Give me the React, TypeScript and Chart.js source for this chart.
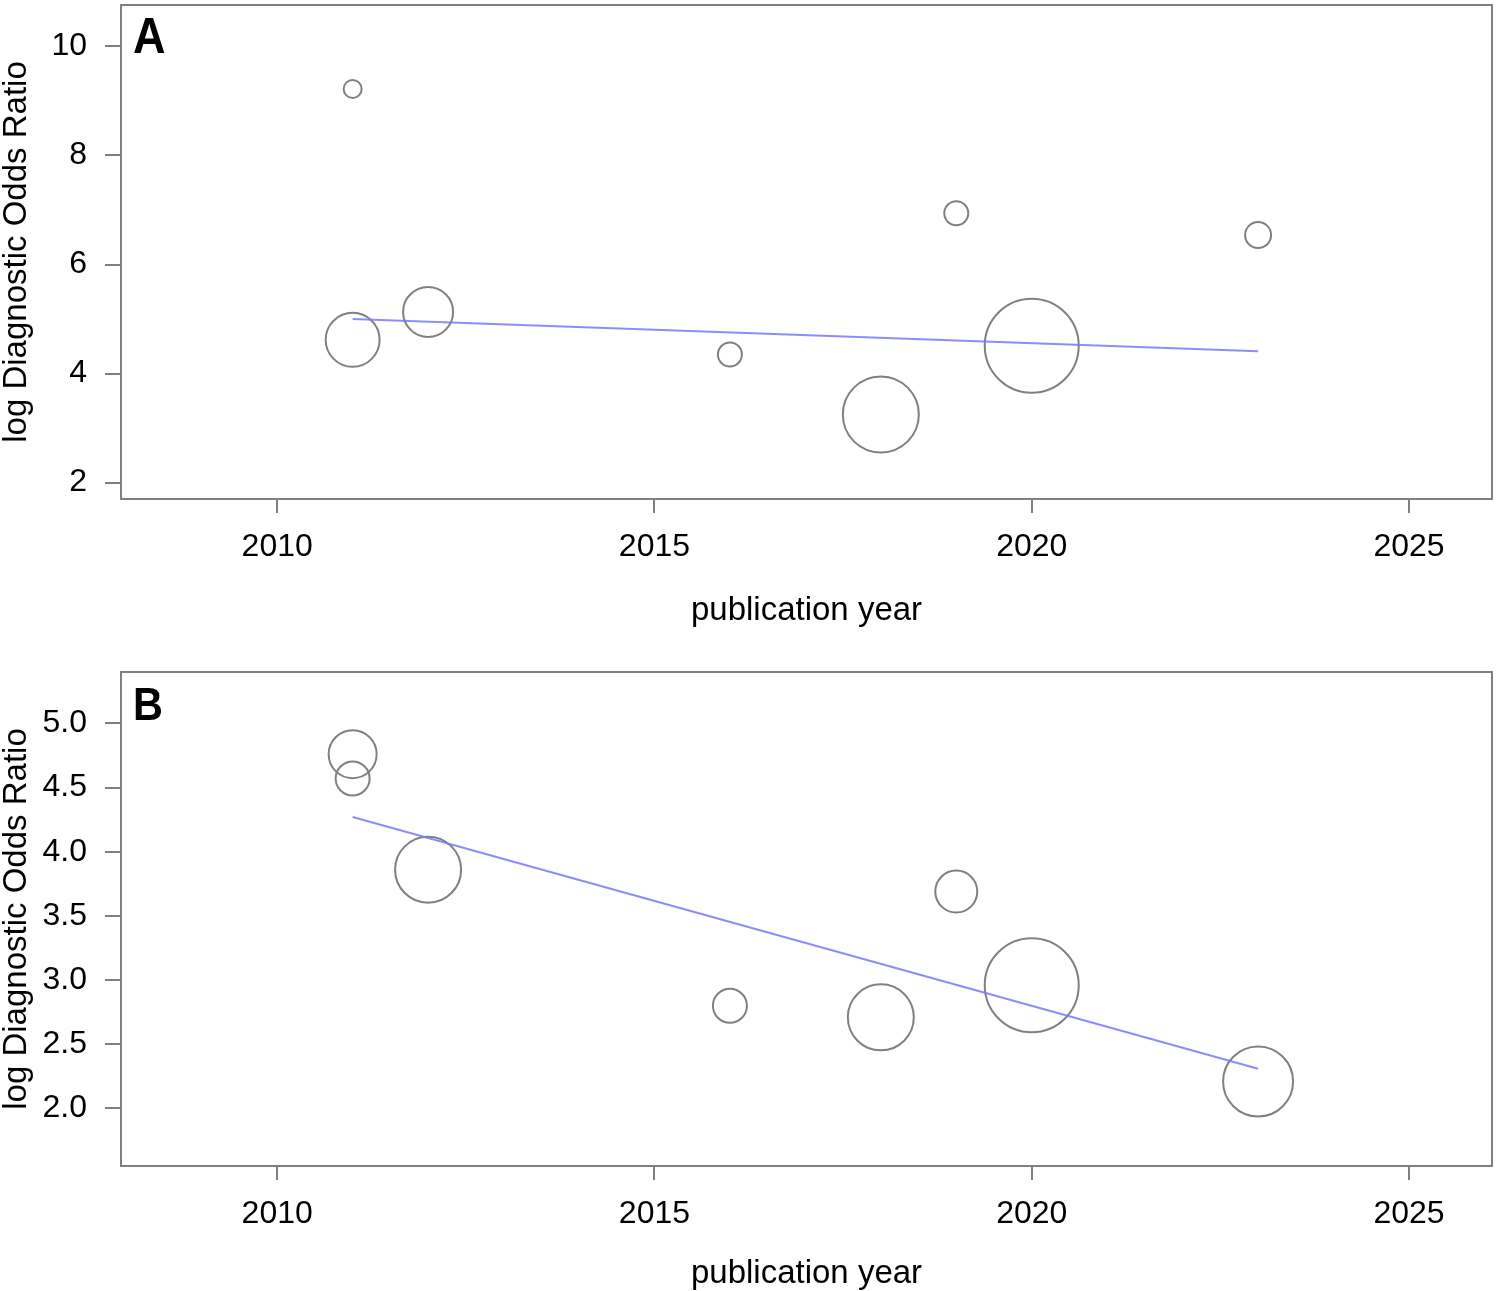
import React, { useEffect, useRef } from 'react'
import { Chart, registerables } from 'chart.js'

Chart.register(...registerables)

// shared x axis
const yearTicks = [2010, 2015, 2020, 2025]

// panel A
const yearsA = [2011, 2011, 2012, 2016, 2018, 2019, 2020, 2023]
const logDorA = [9.22, 4.62, 5.13, 4.35, 3.25, 6.94, 4.51, 6.54]
const sizeA = [9, 27, 25, 12, 38, 12, 47, 13]
const fitYearsA = [2011, 2023]
const fitA = [5.0, 4.41]
const yTicksA = [2, 4, 6, 8, 10]

// panel B
const yearsB = [2011, 2011, 2012, 2016, 2018, 2019, 2020, 2023]
const logDorB = [4.76, 4.57, 3.86, 2.8, 2.71, 3.69, 2.96, 2.21]
const sizeB = [24, 17, 33, 17, 33, 21, 47, 35]
const fitYearsB = [2011, 2023]
const fitB = [4.27, 2.31]
const yTicksB = [2.0, 2.5, 3.0, 3.5, 4.0, 4.5, 5.0]

const FONT = '"Liberation Sans", Arial, Helvetica, sans-serif'
const GREY = '#808080'

// draws the full frame round the plot area and the panel letter
const framePlugin = {
  id: 'frame',
  afterDatasetsDraw(chart: Chart, _args: unknown, opts: { letter: string; letterSize: number }) {
    const { ctx, chartArea } = chart
    ctx.save()
    ctx.strokeStyle = GREY
    ctx.lineWidth = 2
    ctx.strokeRect(chartArea.left, chartArea.top, chartArea.right - chartArea.left, chartArea.bottom - chartArea.top)
    ctx.fillStyle = '#000'
    ctx.font = `bold ${opts.letterSize}px ${FONT}`
    ctx.textBaseline = 'alphabetic'
    ctx.translate(chartArea.left + 12, chartArea.top + 48)
    ctx.scale(0.9, 1)
    ctx.fillText(opts.letter, 0, 0)
    ctx.restore()
  }
}

type PanelProps = {
  letter: string
  letterSize: number
  years: number[]
  values: number[]
  sizes: number[]
  fitYears: number[]
  fitValues: number[]
  yTicks: number[]
  decimals: number
  yMin: number
  yMax: number
  top: number
  height: number
  padTop: number
  xScaleHeight: number
}

function Panel(p: PanelProps) {
  const canvasRef = useRef<HTMLCanvasElement>(null)

  useEffect(() => {
    if (!canvasRef.current) return
    const ctx = canvasRef.current.getContext('2d')
    if (!ctx) return

    const padBottom = p.height - p.padTop - 494 - p.xScaleHeight

    const chart = new Chart(ctx, {
      type: 'bubble',
      data: {
        datasets: [
          {
            type: 'bubble',
            data: p.years.map((x, i) => ({ x, y: p.values[i], r: p.sizes[i] })),
            backgroundColor: 'rgba(0,0,0,0)',
            borderColor: GREY,
            borderWidth: 2,
            order: 2
          },
          {
            // eslint-disable-next-line @typescript-eslint/no-explicit-any
            type: 'line' as any,
            data: p.fitYears.map((x, i) => ({ x, y: p.fitValues[i] })),
            borderColor: 'rgba(120,120,255,0.85)',
            borderWidth: 2,
            pointRadius: 0,
            fill: false,
            order: 1
          }
        ]
      },
      options: {
        responsive: false,
        animation: false,
        layout: { autoPadding: false, padding: { top: p.padTop, right: 6, bottom: padBottom, left: 0 } },
        plugins: {
          legend: { display: false },
          tooltip: { enabled: false },
          // eslint-disable-next-line @typescript-eslint/no-explicit-any
          frame: { letter: p.letter, letterSize: p.letterSize } as any
        },
        scales: {
          x: {
            type: 'linear',
            min: 2007.93,
            max: 2026.1,
            afterBuildTicks: (scale) => { scale.ticks = yearTicks.map(v => ({ value: v })) },
            afterFit: (scale) => {
              scale.height = p.xScaleHeight
              scale.paddingLeft = 0
              scale.paddingRight = 0
            },
            grid: { drawOnChartArea: false, drawTicks: true, tickLength: 14, color: GREY, lineWidth: 2 },
            border: { display: false },
            ticks: {
              color: '#000',
              padding: 15,
              maxRotation: 0,
              font: { family: FONT, size: 32 },
              callback: (v) => String(v)
            },
            title: {
              display: true,
              text: 'publication year',
              color: '#000',
              padding: 0,
              font: { family: FONT, size: 33, lineHeight: 1 }
            }
          },
          y: {
            type: 'linear',
            min: p.yMin,
            max: p.yMax,
            afterBuildTicks: (scale) => { scale.ticks = p.yTicks.map(v => ({ value: v })) },
            afterFit: (scale) => {
              scale.width = 121
              scale.paddingTop = 0
              scale.paddingBottom = 0
            },
            grid: { drawOnChartArea: false, drawTicks: true, tickLength: 16, color: GREY, lineWidth: 2 },
            border: { display: false },
            ticks: {
              color: '#000',
              padding: 18,
              font: { family: FONT, size: 32 },
              callback: (v) => Number(v).toFixed(p.decimals)
            },
            title: {
              display: true,
              text: 'log Diagnostic Odds Ratio',
              color: '#000',
              padding: 0,
              font: { family: FONT, size: 33, lineHeight: 1 }
            }
          }
        }
      },
      plugins: [framePlugin]
    })

    return () => chart.destroy()
  }, [p])

  return (
    <canvas
      ref={canvasRef}
      width={1498}
      height={p.height}
      style={{ position: 'absolute', left: 0, top: p.top, width: 1498, height: p.height }}
    />
  )
}

const panelA: PanelProps = {
  letter: 'A', letterSize: 50,
  years: yearsA, values: logDorA, sizes: sizeA,
  fitYears: fitYearsA, fitValues: fitA,
  yTicks: yTicksA, decimals: 0, yMin: 1.7, yMax: 10.76,
  top: 0, height: 645, padTop: 5, xScaleHeight: 128
}

const panelB: PanelProps = {
  letter: 'B', letterSize: 46,
  years: yearsB, values: logDorB, sizes: sizeB,
  fitYears: fitYearsB, fitValues: fitB,
  yTicks: yTicksB, decimals: 1, yMin: 1.552, yMax: 5.4,
  top: 660, height: 631, padTop: 12, xScaleHeight: 124
}

export default function App() {
  return (
    <div style={{ position: 'absolute', left: 0, top: 0, width: 1498, height: 1291, background: '#fff' }}>
      <Panel {...panelA} />
      <Panel {...panelB} />
    </div>
  )
}
